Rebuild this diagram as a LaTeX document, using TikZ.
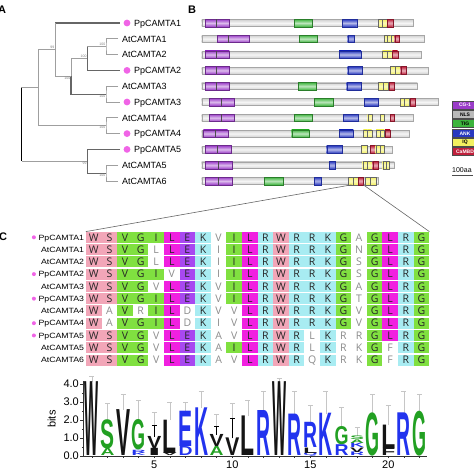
\documentclass[tikz,border=0pt]{standalone}
\usepackage{fontspec,graphicx}
\setmainfont{Liberation Sans}
\newfontfamily\alnfont{Open Sans}
\newfontfamily\namefont{Liberation Sans}[FakeStretch=1.15]
\definecolor{ppdot}{HTML}{F064E6}
\definecolor{cgc}{HTML}{9A3CC8}
\definecolor{tigc}{HTML}{3CB43C}
\definecolor{ankc}{HTML}{2838C0}
\definecolor{iqc}{HTML}{F2F060}
\definecolor{cmbc}{HTML}{C0203C}
\definecolor{al-p}{HTML}{F2A6B8}
\definecolor{al-g}{HTML}{80E040}
\definecolor{al-m}{HTML}{F020E0}
\definecolor{al-u}{HTML}{A848F0}
\definecolor{al-c}{HTML}{A8ECF2}
\definecolor{al-w}{HTML}{FFFFFF}
\colorlet{tx-p}{black!85}\colorlet{tx-g}{black!85}\colorlet{tx-m}{black!85}
\colorlet{tx-u}{black!85}\colorlet{tx-c}{black!85}\colorlet{tx-w}{black!45}
\definecolor{lgk}{HTML}{141414}
\definecolor{lgg}{HTML}{22A022}
\definecolor{lgb}{HTML}{2233EE}

% domains on a protein bar
\newcommand{\dom}[4]{\path[#1] (#2,#4-3.8) rectangle (#3,#4+3.8);}
\newcommand{\cgd}[4]{\dom{cg}{#1}{#3}{#4}\draw[nls] (#2,#4-3.8) -- (#2,#4+3.8);}
% one alignment row
\newcommand{\alnrow}[3]{%
  \pgfmathsetmacro{\ry}{237.3+12.27*(#1-1)}
  \node[aname] (nm-#1) at (84.3,\ry) {#2};
  \foreach \res/\cc [count=\k] in {#3}
    \node[cell, fill=al-\cc, text=tx-\cc] (c-#1-\k) at (78.2+15.6*\k,\ry) {\res};}
% one logo letter: position, from, to (bits), letter, colour
\newcommand{\lgl}[5]{%
  \pgfmathsetmacro{\lx}{76.3+15.6*#1}
  \pgfmathsetmacro{\ly}{456-18*#2}
  \pgfmathsetmacro{\lh}{18*(#3-#2)}
  \node[logo, text=#5] (lg-#1-#4) at (\lx,\ly) {\resizebox{14pt}{\lh pt}{#4}};}
\newcommand{\ebar}[4][ebar]{%
  \pgfmathsetmacro{\lx}{76.3+15.6*#2}
  \pgfmathsetmacro{\ea}{456-18*#3}
  \pgfmathsetmacro{\eb}{456-18*#4}
  \draw[#1] (\lx,\ea) -- (\lx,\eb) (\lx-2.5,\eb) -- (\lx+2.5,\eb);}

\begin{document}
\begin{tikzpicture}[x=1pt,y=-1pt,
  panel/.style={font=\fontsize{11}{11}\selectfont\bfseries, inner sep=0pt},
  br/.style={draw=gray!75, line width=0.8pt},
  brd/.style={draw=black!60, line width=1.1pt},
  brk/.style={draw=black, line width=1.3pt},
  leaf/.style={anchor=west, inner sep=0pt, text height=6.5pt, text depth=0pt, font=\fontsize{9}{10}\selectfont},
  boot/.style={font=\fontsize{3.5}{4}\selectfont, text=gray, inner sep=0.6pt},
  ppdot/.style={fill=ppdot},
  bar/.style={draw=gray!70, line width=0.4pt, top color=gray!35, bottom color=gray!35, middle color=gray!8},
  cg/.style={draw=cgc!70!black, line width=0.4pt, top color=cgc, bottom color=cgc, middle color=cgc!35},
  tig/.style={draw=tigc!70!black, line width=0.4pt, top color=tigc, bottom color=tigc, middle color=tigc!35},
  ank/.style={draw=ankc!80!black, line width=0.4pt, top color=ankc, bottom color=ankc, middle color=ankc!35},
  iq/.style={draw=black!60, line width=0.4pt, top color=iqc, bottom color=iqc, middle color=iqc!40},
  cmb/.style={draw=cmbc!70!black, line width=0.4pt, top color=cmbc, bottom color=cmbc, middle color=cmbc!35},
  nls/.style={draw=black!70, line width=0.8pt},
  key/.style={minimum width=26pt, minimum height=8pt, inner sep=0pt, draw=black!70, line width=0.6pt, font=\fontsize{5}{5}\selectfont\bfseries},
  zoomln/.style={draw=black!60, line width=0.6pt},
  aname/.style={anchor=east, inner sep=0pt, text height=5.5pt, text depth=0pt, font=\namefont\fontsize{7.6}{8}\selectfont},
  cell/.style={minimum width=15.6pt, minimum height=11pt, inner sep=0pt, text height=7.6pt, text depth=0pt, font=\alnfont\fontsize{10.5}{10.5}\selectfont},
  logo/.style={anchor=south, inner sep=0pt, font=\bfseries},
  ebar/.style={draw=gray!45, line width=0.7pt},
  ebk/.style={draw=black, line width=0.9pt},
  axis/.style={draw=black!80, line width=0.7pt},
  tick/.style={font=\fontsize{11}{11}\selectfont, inner sep=1pt}]
\useasboundingbox (0,0) rectangle (474,474);
\clip (0,0) rectangle (474,474);

\node[panel] (pA) at (2,10) {A};
\node[panel] (pB) at (192,10) {B};
\node[panel] (pC) at (3,237) {C};

% A: tree
\node[leaf] (t1) at (134,23) {PpCAMTA1};
\node[leaf] (t2) at (122,38.8) {AtCAMTA1};
\node[leaf] (t3) at (122,54.6) {AtCAMTA2};
\node[leaf] (t4) at (134,70.4) {PpCAMTA2};
\node[leaf] (t5) at (122,86.2) {AtCAMTA3};
\node[leaf] (t6) at (134,102) {PpCAMTA3};
\node[leaf] (t7) at (122,117.8) {AtCAMTA4};
\node[leaf] (t8) at (134,133.6) {PpCAMTA4};
\node[leaf] (t9) at (134,149.4) {PpCAMTA5};
\node[leaf] (t10) at (122,165.2) {AtCAMTA5};
\node[leaf] (t11) at (122,181) {AtCAMTA6};
\foreach \t in {t1,t4,t6,t8,t9} {
  \fill[ppdot] ([xshift=-7pt]\t.west) circle (3.4pt);
  \coordinate (e\t) at ([xshift=-14pt]\t.west);}
\foreach \t in {t2,t3,t5,t7,t10,t11}
  \coordinate (e\t) at ([xshift=-4pt]\t.west);
\coordinate (n12) at (106,46.7);
\coordinate (na) at (87.3,58.5);
\coordinate (n33) at (106,94.1);
\coordinate (nb) at (71,76.3);
\coordinate (nc) at (55,49.6);
\coordinate (n44) at (106,125.7);
\coordinate (nd) at (38.3,87.7);
\coordinate (n56) at (106,173.1);
\coordinate (ne) at (87.3,161.3);
\coordinate (root) at (21.7,124.5);
\draw[br] (et2) -| (n12) |- (et3);
\draw[br] (et5) -| (n33) |- (et6);
\draw[br] (et7) -| (n44) |- (et8);
\draw[br] (et10) -| (n56) |- (et11);
\draw[br] (n12) -| (na);
\draw[brd] (na |- n12) |- (et4);
\draw[br] (na) -| (nb);
\draw[brd] (nb) |- (n33);
\draw[br] (nb) -| (nc);
\draw[brd] (nc |- et1) -- (et1);
\draw[br] (nc |- et1) -- (nc);
\draw[br] (nc) -| (nd) |- (n44);
\draw[brd] (et9) -| (ne) |- (n56);
\draw[br] (nd) -| (root);
\draw[br] (root |- ne) -- (ne);
\draw[brk] (root |- nd) -- (root |- ne);
\node[boot, anchor=south east] (bs1) at (nc) {99};
\node[boot, anchor=south east] (bs2) at (n12) {100};
\node[boot, anchor=south east] (bs3) at (na) {100};
\node[boot, anchor=north east] (bs4) at (nb) {100};
\node[boot, anchor=north east] (bs5) at (n33) {100};
\node[boot, anchor=north east] (bs6) at (n44) {100};
\node[boot, anchor=north east] (bs7) at (ne) {99};
\node[boot, anchor=north east] (bs8) at (n56) {100};

% B: domain structures
\foreach \yy/\xe in {23/413.3, 38.8/424.3, 54.6/420.7, 70.4/428.3, 86.2/417.3, 102/438.3,
    117.8/413.3, 133.6/409, 149.4/392.3, 165.2/394.3, 181/377.7}
  \draw[bar] (201.7,\yy-3.4) rectangle (\xe,\yy+3.4);
\cgd{205}{216.7}{229.3}{23} \dom{tig}{294.3}{312.3}{23} \dom{ank}{342.3}{356.7}{23}
\dom{iq}{378.3}{382.5}{23} \dom{iq}{382.5}{386.7}{23} \dom{cmb}{387.3}{392.7}{23}
\cgd{217.3}{228.3}{249.3}{38.8} \dom{tig}{299.3}{317.3}{38.8} \dom{ank}{347.7}{354.3}{38.8}
\dom{iq}{384.3}{387.5}{38.8} \dom{iq}{387.5}{390.7}{38.8} \dom{iq}{390.7}{394}{38.8} \dom{cmb}{394.7}{399.3}{38.8}
\cgd{205}{216.7}{229.3}{54.6} \dom{ank}{339}{361}{54.6}
\dom{iq}{382.3}{387}{54.6} \dom{iq}{387}{391.7}{54.6} \dom{cmb}{392.3}{397.7}{54.6}
\cgd{205}{216.7}{229.3}{70.4} \dom{ank}{347.7}{361.7}{70.4}
\dom{iq}{390}{395.3}{70.4} \dom{iq}{395.3}{400.7}{70.4} \dom{cmb}{400.7}{406}{70.4}
\cgd{205}{216.7}{229.3}{86.2} \dom{tig}{298.3}{316}{86.2} \dom{ank}{346.7}{361}{86.2}
\dom{iq}{378.3}{383.3}{86.2} \dom{iq}{383.3}{388.3}{86.2} \dom{cmb}{389}{394}{86.2}
\cgd{209}{221.7}{234}{102} \dom{tig}{314.3}{333.3}{102} \dom{ank}{364}{378.3}{102}
\dom{iq}{400}{404.5}{102} \dom{iq}{404.5}{409}{102} \dom{cmb}{410}{415.3}{102}
\cgd{209}{221.7}{234}{117.8} \dom{tig}{294.3}{312.3}{117.8} \dom{ank}{343.3}{357.7}{117.8}
\dom{iq}{367.7}{371.7}{117.8} \dom{iq}{380}{384.3}{117.8} \dom{cmb}{390}{394}{117.8}
\cgd{203.3}{215.7}{227.7}{133.6} \dom{tig}{291.7}{309.3}{133.6} \dom{ank}{339}{353.3}{133.6}
\dom{iq}{363.3}{367.5}{133.6} \dom{iq}{367.5}{371.7}{133.6} \dom{iq}{376}{380}{133.6} \dom{iq}{380}{384.3}{133.6}
\dom{cmb}{385}{390}{133.6}
\cgd{205}{217.3}{230.7}{149.4} \dom{ank}{326.7}{341.7}{149.4}
\dom{iq}{361}{366.7}{149.4} \dom{cmb}{370}{375}{149.4} \dom{iq}{375.7}{380}{149.4} \dom{iq}{380}{384.3}{149.4}
\cgd{205}{218.3}{231.7}{165.2} \dom{ank}{329}{335}{165.2}
\dom{iq}{362.7}{367.2}{165.2} \dom{iq}{367.2}{371.7}{165.2} \dom{cmb}{372.7}{377.7}{165.2}
\dom{iq}{382.7}{386}{165.2} \dom{iq}{386}{389.3}{165.2}
\cgd{205}{218.3}{231.7}{181} \dom{tig}{264}{283.3}{181} \dom{ank}{314.3}{321}{181}
\dom{iq}{348.3}{353.3}{181} \dom{iq}{353.3}{358.3}{181} \dom{cmb}{358.3}{363.3}{181}
\dom{iq}{365}{370.5}{181} \dom{iq}{370.5}{376}{181}
% key
\node[key, fill=cgc, text=white] (k1) at (465,105) {CG-1};
\node[key, fill=gray!55, text=black] (k2) at (465,114.3) {NLS};
\node[key, fill=tigc, text=black] (k3) at (465,123.7) {TIG};
\node[key, fill=ankc, text=white] (k4) at (465,133.3) {ANK};
\node[key, fill=iqc, text=black] (k5) at (465,142.3) {IQ};
\node[key, fill=cmbc, text=white] (k6) at (465,151.7) {CaMBD};
\node[anchor=west, inner sep=0pt, font=\fontsize{7}{7}\selectfont] (sc) at (452,170) {100aa};
\draw[black!70, line width=0.6pt] (sc.south west) ++(0,3) coordinate (s1) -- ++(21,0) coordinate (s2);

% C: alignment
\alnrow{1}{PpCAMTA1}{W/p,S/p,V/g,G/g,I/g,L/m,E/u,K/c,V/w,I/g,L/m,R/c,W/p,R/c,R/c,K/c,G/g,A/w,G/g,L/m,R/c,G/g}
\alnrow{2}{AtCAMTA1}{W/p,S/p,V/g,G/g,L/w,L/m,E/u,K/c,I/w,I/g,L/m,R/c,W/p,R/c,R/c,K/c,G/g,N/w,G/g,L/m,R/c,G/g}
\alnrow{3}{AtCAMTA2}{W/p,S/p,V/g,G/g,L/w,L/m,E/u,K/c,I/w,I/g,L/m,R/c,W/p,R/c,R/c,K/c,G/g,S/w,G/g,L/m,R/c,G/g}
\alnrow{4}{PpCAMTA2}{W/p,S/p,V/g,G/g,I/g,V/w,E/u,K/c,I/w,I/g,L/m,R/c,W/p,R/c,R/c,K/c,G/g,S/w,G/g,L/m,R/c,G/g}
\alnrow{5}{AtCAMTA3}{W/p,S/p,V/g,G/g,V/w,L/m,E/u,K/c,V/w,I/g,L/m,R/c,W/p,R/c,R/c,K/c,G/g,A/w,G/g,L/m,R/c,G/g}
\alnrow{6}{PpCAMTA3}{W/p,S/p,V/g,G/g,I/g,L/m,E/u,K/c,V/w,I/g,L/m,R/c,W/p,R/c,R/c,K/c,G/g,T/w,G/g,L/m,R/c,G/g}
\alnrow{7}{AtCAMTA4}{W/p,A/w,V/g,R/w,I/g,L/m,D/w,K/c,V/w,V/w,L/m,R/c,W/p,R/c,R/c,K/c,G/g,V/w,G/g,L/m,R/c,G/g}
\alnrow{8}{PpCAMTA4}{W/p,A/w,V/g,G/g,I/g,L/m,D/w,K/c,I/w,V/w,L/m,R/c,W/p,R/c,R/c,K/c,G/g,V/w,G/g,L/m,R/c,G/g}
\alnrow{9}{PpCAMTA5}{W/p,S/p,V/g,G/g,V/w,L/m,E/u,K/c,A/w,V/w,L/m,R/c,W/p,R/c,L/w,K/c,R/w,R/w,G/g,L/m,R/c,G/g}
\alnrow{10}{AtCAMTA5}{W/p,S/p,V/g,G/g,V/w,L/m,E/u,K/c,A/w,I/g,L/m,R/c,W/p,R/c,L/w,K/c,R/w,K/w,G/g,F/w,R/c,G/g}
\alnrow{11}{AtCAMTA6}{W/p,S/p,V/g,G/g,V/w,L/m,E/u,K/c,A/w,V/w,L/m,R/c,W/p,R/c,Q/w,K/c,R/w,K/w,G/g,F/w,R/c,G/g}
\foreach \r in {1,4,6,8,9}
  \fill[ppdot] ([xshift=-4.5pt]nm-\r.west) circle (2pt);
% zoom lines
\coordinate (zl) at (351.7,184.8);
\coordinate (zr) at (363.3,184.8);
\draw[zoomln] (zl) -- (c-1-1.north west);
\draw[zoomln] (zr) -- (c-1-22.north east);

% logo
\foreach \p/\hs/\et in {1/4.1/4.4, 2/2.0/2.9, 3/2.55/3.4, 4/2.0/3.1, 5/1.72/2.4, 6/2.0/3.0,
    7/2.46/3.0, 8/2.65/3.6, 9/1.63/2.3, 10/2.09/2.9, 11/2.2/3.1, 12/2.5/3.6, 13/4.1/4.3,
    14/2.3/3.6, 15/1.85/2.8, 16/2.35/3.6, 17/1.6/2.7, 18/1.1/1.6, 19/2.37/3.4, 20/1.7/2.8,
    21/2.37/3.6, 22/2.46/3.4}
  {\ebar{\p}{\hs}{\et}}
\ebar[ebk]{5}{1.07}{1.72}
\ebar[ebk]{9}{1.17}{1.63}
\ebar[ebk]{10}{0.98}{2.09}
\lgl{1}{0}{4.1}{W}{lgk}
\lgl{2}{0}{0.4}{A}{lgg} \lgl{2}{0.4}{2.0}{S}{lgg}
\lgl{3}{0}{2.55}{V}{lgk}
\lgl{4}{0}{0.15}{K}{lgb} \lgl{4}{0.15}{0.33}{R}{lgb} \lgl{4}{0.33}{2.0}{G}{lgg}
\lgl{5}{0}{0.4}{I}{lgk} \lgl{5}{0.4}{1.07}{V}{lgk}
\lgl{6}{0}{0.15}{V}{lgk} \lgl{6}{0.15}{2.0}{L}{lgk}
\lgl{7}{0}{0.5}{D}{lgb} \lgl{7}{0.5}{2.46}{E}{lgb}
\lgl{8}{0}{2.65}{K}{lgb}
\lgl{9}{0}{0.5}{A}{lgg} \lgl{9}{0.5}{1.17}{V}{lgk}
\lgl{10}{0}{0.98}{V}{lgk}
\lgl{11}{0}{2.2}{L}{lgk}
\lgl{12}{0}{2.5}{R}{lgb}
\lgl{13}{0}{4.1}{W}{lgk}
\lgl{14}{0}{2.3}{R}{lgb}
\lgl{15}{0}{0.15}{Q}{lgb} \lgl{15}{0.15}{0.45}{L}{lgk} \lgl{15}{0.45}{1.85}{R}{lgb}
\lgl{16}{0}{2.35}{K}{lgb}
\lgl{17}{0}{0.6}{R}{lgb} \lgl{17}{0.6}{1.6}{G}{lgg}
\lgl{18}{0}{0.2}{R}{lgb} \lgl{18}{0.2}{0.45}{V}{lgk} \lgl{18}{0.45}{0.7}{K}{lgb}
\lgl{18}{0.7}{0.9}{A}{lgg} \lgl{18}{0.9}{1.1}{S}{lgg}
\lgl{19}{0}{2.37}{G}{lgg}
\lgl{20}{0}{0.4}{F}{lgk} \lgl{20}{0.4}{1.7}{L}{lgk}
\lgl{21}{0}{2.37}{R}{lgb}
\lgl{22}{0}{2.46}{G}{lgg}
% axes
\draw[axis] (83.3,456) -- (83.3,381);
\draw[axis] (83.3,456) -- (427,456);
\foreach \v in {0,1,2,3,4} {
  \draw[axis] (83.3,456-18*\v) -- ++(-3,0);
  \node[tick, anchor=east] (yt\v) at (80,456-18*\v) {\v.0};}
\foreach \v in {0.5,1.5,2.5,3.5}
  \draw[axis] (83.3,456-18*\v) -- ++(-1.5,0);
\foreach \p in {1,...,22}
  \draw[axis] (76.3+15.6*\p,456) -- ++(0,2);
\foreach \p in {5,10,15,20}
  \node[tick, anchor=north] (xt\p) at (76.3+15.6*\p,459.5) {\p};
\node[tick, rotate=90] (bits) at (51.7,419) {bits};
\end{tikzpicture}
\end{document}
